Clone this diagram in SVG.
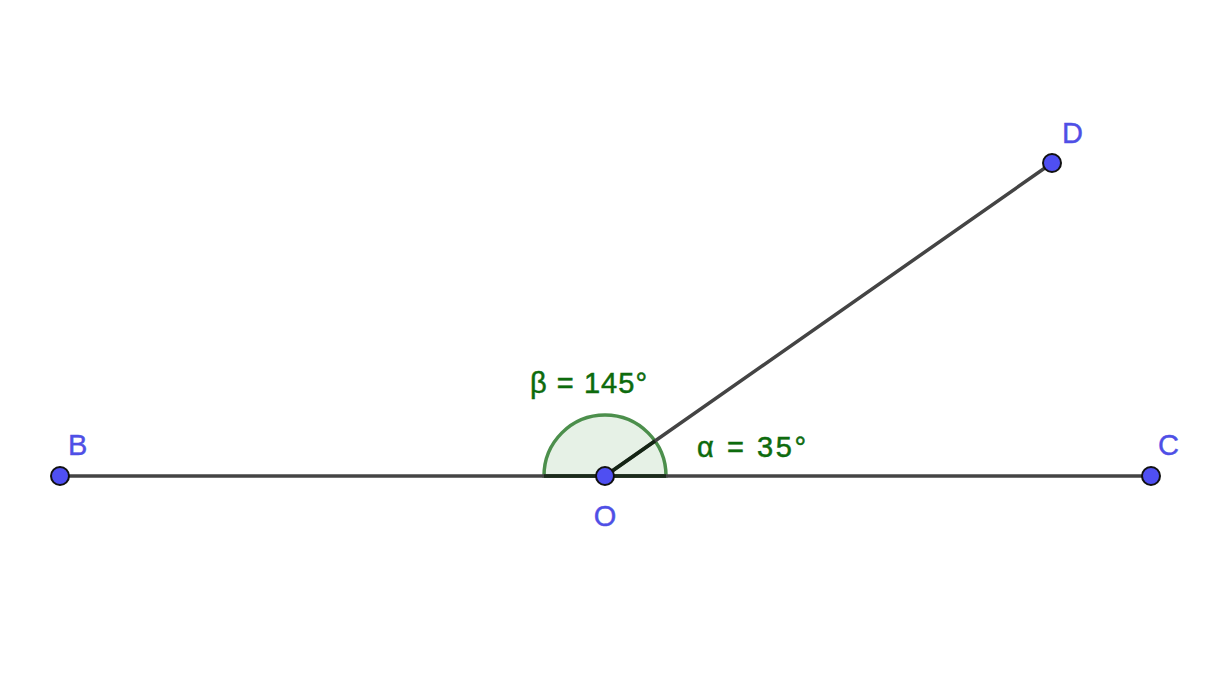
<svg xmlns="http://www.w3.org/2000/svg" width="1226" height="688" viewBox="0 0 1226 688">
<style>
.seg{stroke:#444;stroke-width:3.5;fill:none;stroke-linecap:round}
.pt{fill:#4f4ff2;stroke:#111;stroke-width:2}
.lbl{font-family:"Liberation Sans",Arial,sans-serif;font-size:29px;fill:#4f4fe6;stroke:#4f4fe6;stroke-width:0.4}
.ang{font-family:"Liberation Sans",Arial,sans-serif;font-size:29px;fill:#0d6b0d;stroke:#0d6b0d;stroke-width:0.5}
</style>
<rect width="1226" height="688" fill="#fff"/>
<g id="angle-beta">
<path d="M544,476 A61,61 0 0 1 666,476 Z" fill="#e6f1e6" stroke="#4c8f4c" stroke-width="3.5"/>
</g>
<g id="connectors">
<line class="seg" x1="60" y1="476" x2="1151" y2="476"/>
<line class="seg" x1="605" y1="476" x2="1052" y2="163"/>
<line x1="605" y1="476" x2="655" y2="441" stroke="#142414" stroke-width="3.5"/>
<line x1="544" y1="476" x2="666" y2="476" stroke="#1a2a1a" stroke-width="3.5"/>
</g>
<g id="node-B"><circle class="pt" cx="60" cy="476" r="9"/><text class="lbl" x="68" y="455">B</text></g>
<g id="node-O"><circle class="pt" cx="605" cy="476" r="9"/><text class="lbl" x="605" y="526" text-anchor="middle">O</text></g>
<g id="node-C"><circle class="pt" cx="1151" cy="476" r="9"/><text class="lbl" x="1158" y="455">C</text></g>
<g id="node-D"><circle class="pt" cx="1052" cy="163" r="9"/><text class="lbl" x="1062" y="143">D</text></g>
<text class="ang" x="530" y="393" textLength="117" lengthAdjust="spacing">β = 145°</text>
<text class="ang" x="697" y="457" textLength="109" lengthAdjust="spacing">α = 35°</text>
</svg>
